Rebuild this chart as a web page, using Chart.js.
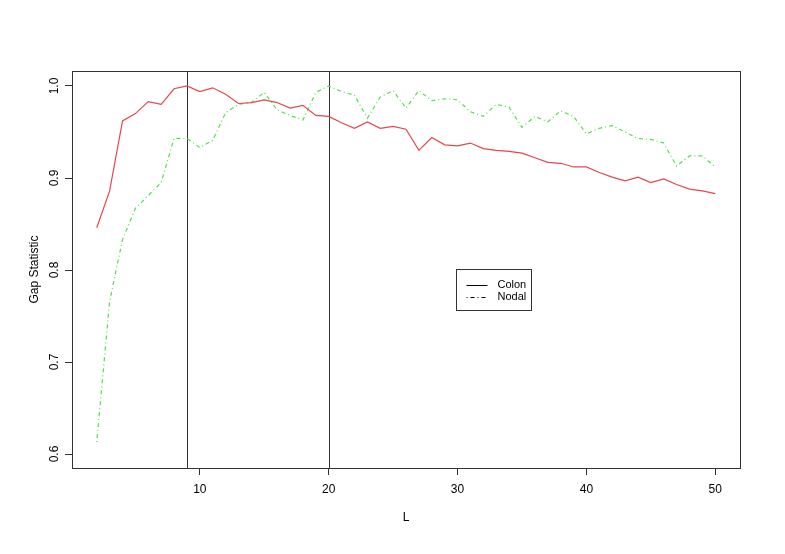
<!DOCTYPE html>
<html>
<head>
<meta charset="utf-8">
<script src="https://cdn.jsdelivr.net/npm/chart.js@4/dist/chart.umd.min.js"></script>
<style>
  html, body { margin: 0; padding: 0; background: #fff; }
  canvas { display: block; }
</style>
</head>
<body>
<canvas id="c" width="785" height="554"></canvas>
<script>
// ---- data ----
const L = [2,3,4,5,6,7,8,9,10,11,12,13,14,15,16,17,18,19,20,21,22,23,24,25,26,27,28,29,30,31,32,33,34,35,36,37,38,39,40,41,42,43,44,45,46,47,48,49,50];
const colon = [0.846,0.886,0.962,0.970,0.983,0.980,0.997,1.000,0.994,0.998,
               0.991,0.981,0.982,0.985,0.982,0.976,0.979,0.968,0.967,0.960,
               0.954,0.961,0.954,0.956,0.953,0.930,0.944,0.936,0.935,0.938,
               0.932,0.930,0.929,0.927,0.922,0.917,0.916,0.912,0.912,0.906,
               0.901,0.897,0.901,0.895,0.899,0.893,0.888,0.886,0.883];
const nodal = [0.613,0.766,0.833,0.867,0.881,0.895,0.943,0.943,0.933,0.941,
               0.971,0.980,0.982,0.993,0.974,0.968,0.963,0.993,1.000,0.994,
               0.990,0.965,0.988,0.995,0.976,0.995,0.984,0.986,0.985,0.972,
               0.967,0.980,0.977,0.955,0.967,0.961,0.973,0.967,0.948,0.954,
               0.957,0.950,0.943,0.942,0.938,0.913,0.924,0.924,0.912];
const seriesNames = ['Colon', 'Nodal'];
const xTicks = [10, 20, 30, 40, 50];
const yTicks = [0.6, 0.7, 0.8, 0.9, 1.0];
const vLines = [9, 20];
const legendAt = { x: 30, y: 0.8 };
const xTitle = 'L';
const yTitle = 'Gap Statistic';

const RED = '#e3474d';
const GREEN = '#52de4c';
const DOTDASH = [1, 3, 4, 3];
const FRAME = '#333';

Chart.defaults.font.family = "'Liberation Sans', Arial, Helvetica, sans-serif";
Chart.defaults.font.size = 12;
Chart.defaults.color = '#000';

const framePlugin = {
  id: 'frame',
  beforeDatasetsDraw(chart) {
    const { ctx, chartArea: a, scales: { x } } = chart;
    ctx.save();
    ctx.strokeStyle = FRAME;
    ctx.lineWidth = 1;
    vLines.forEach(v => {
      const px = Math.round(x.getPixelForValue(v)) + 0.5;
      ctx.beginPath();
      ctx.moveTo(px, a.top);
      ctx.lineTo(px, a.bottom);
      ctx.stroke();
    });
    ctx.restore();
  },
  afterDraw(chart) {
    const { ctx, chartArea: a, scales: { x, y } } = chart;
    ctx.save();
    ctx.strokeStyle = FRAME;
    ctx.lineWidth = 1;
    ctx.strokeRect(Math.round(a.left) + 0.5, Math.round(a.top) + 0.5,
                   Math.round(a.right - a.left), Math.round(a.bottom - a.top));
    // legend
    const lx = Math.floor(x.getPixelForValue(legendAt.x)) - 0.5;
    const ly = Math.floor(y.getPixelForValue(legendAt.y)) - 0.5;
    const w = 75, h = 41;
    ctx.strokeRect(lx, ly, w, h);
    const rows = [ly + 15, ly + 27];
    const dashes = [[], DOTDASH];
    ctx.font = "11px 'Liberation Sans', Arial, sans-serif";
    ctx.textBaseline = 'middle';
    ctx.textAlign = 'left';
    ctx.fillStyle = '#000';
    seriesNames.forEach((name, i) => {
      ctx.setLineDash(dashes[i]);
      ctx.strokeStyle = '#000';
      ctx.beginPath();
      ctx.moveTo(lx + 10, Math.round(rows[i]) + 0.5);
      ctx.lineTo(lx + 31, Math.round(rows[i]) + 0.5);
      ctx.stroke();
      ctx.setLineDash([]);
      ctx.fillText(name, lx + 41, rows[i]);
    });
    ctx.restore();
  }
};

new Chart(document.getElementById('c'), {
  type: 'line',
  data: {
    datasets: [
      { label: seriesNames[0], data: L.map((v, i) => ({ x: v, y: colon[i] })),
        borderColor: RED, borderWidth: 1.2, pointRadius: 0, tension: 0, fill: false },
      { label: seriesNames[1], data: L.map((v, i) => ({ x: v, y: nodal[i] })),
        borderColor: GREEN, borderWidth: 1.2, borderDash: DOTDASH, pointRadius: 0, tension: 0, fill: false }
    ]
  },
  options: {
    responsive: false,
    animation: false,
    events: [],
    layout: { padding: { top: 71, right: 45, bottom: 0, left: 0 } },
    plugins: { legend: { display: false }, tooltip: { enabled: false } },
    scales: {
      x: {
        type: 'linear',
        min: 0.08, max: 51.92,
        afterBuildTicks: s => { s.ticks = xTicks.map(v => ({ value: v })); },
        afterFit: s => { s.height = 86; },
        border: { display: false },
        grid: { display: true, drawOnChartArea: false, drawTicks: true, tickLength: 7, color: FRAME, lineWidth: 1 },
        ticks: { padding: 7, color: '#000', maxRotation: 0, autoSkip: false, callback: v => String(v) },
        title: { display: true, text: xTitle, color: '#000', font: { size: 12 }, padding: { top: 0, bottom: 29 } }
      },
      y: {
        type: 'linear',
        min: 0.5848, max: 1.0163,
        afterBuildTicks: s => { s.ticks = yTicks.map(v => ({ value: v })); },
        afterFit: s => { s.width = 72; },
        border: { display: false },
        grid: { display: true, drawOnChartArea: false, drawTicks: true, tickLength: 7, color: FRAME, lineWidth: 1 },
        ticks: { padding: 2, color: '#000', minRotation: 90, maxRotation: 90, crossAlign: 'center', autoSkip: false,
                 callback: v => Number(v).toFixed(1) },
        title: { display: true, text: yTitle, color: '#000', font: { size: 12 }, padding: { top: 27, bottom: 0 } }
      }
    }
  },
  plugins: [framePlugin]
});
</script>
</body>
</html>
